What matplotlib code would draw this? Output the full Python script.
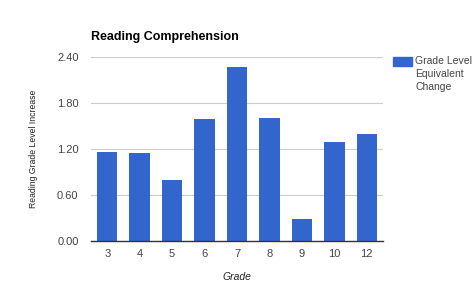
import matplotlib
matplotlib.use("Agg")
import matplotlib.pyplot as plt
from matplotlib.patches import Rectangle

plt.rcParams["font.family"] = ["Liberation Sans", "DejaVu Sans"]

grades = ["3", "4", "5", "6", "7", "8", "9", "10", "12"]
change = [1.16, 1.15, 0.79, 1.59, 2.27, 1.61, 0.29, 1.29, 1.39]
yticks = [0.0, 0.6, 1.2, 1.8, 2.4]
legend_label = "Grade Level\nEquivalent\nChange"

bar_color = "#3366cc"

fig = plt.figure(figsize=(4.74, 2.98), dpi=100)
ax = fig.add_axes([91/474, 1 - 241/298, 292/474, 184/298])

x = range(len(grades))
ax.bar(x, change, width=0.63, color=bar_color, zorder=3)
ax.set_xlim(-0.5, len(grades) - 0.5)
ax.set_ylim(0, 2.4)
ax.set_yticks(yticks)
ax.set_yticklabels(["%.2f" % v for v in yticks])
ax.set_xticks(list(x))
ax.set_xticklabels(grades)
ax.grid(axis="y", color="#cccccc", linewidth=0.8, zorder=0)
for s in ["top", "right", "left"]:
    ax.spines[s].set_visible(False)
ax.spines["bottom"].set_color("#333333")
ax.spines["bottom"].set_linewidth(1.0)
ax.spines["bottom"].set_zorder(4)
ax.tick_params(length=0, labelsize=8, labelcolor="#444444")
ax.tick_params(axis="y", pad=9)
ax.tick_params(axis="x", pad=6)

fig.text(91/474, 1 - 37/298, "Reading Comprehension", fontsize=9,
         fontweight="bold", color="#000000", va="center", ha="left")
fig.text(33/474, 1 - 149/298, "Reading Grade Level Increase", fontsize=6.2,
         color="#222222", rotation=90, va="center", ha="center")
fig.text(237/474, 1 - 277/298, "Grade", fontsize=7.5, style="italic",
         color="#222222", va="center", ha="center")

# legend drawn by hand so the swatch lines up with the first text line
fig.patches.append(Rectangle((393/474, 1 - 66/298), 19/474, 9/298,
                             transform=fig.transFigure, color=bar_color))
fig.text(415/474, 1 - 56/298, legend_label, fontsize=7.5, color="#444444",
         va="top", ha="left", linespacing=1.4)

fig.savefig("out.png", dpi=100)
